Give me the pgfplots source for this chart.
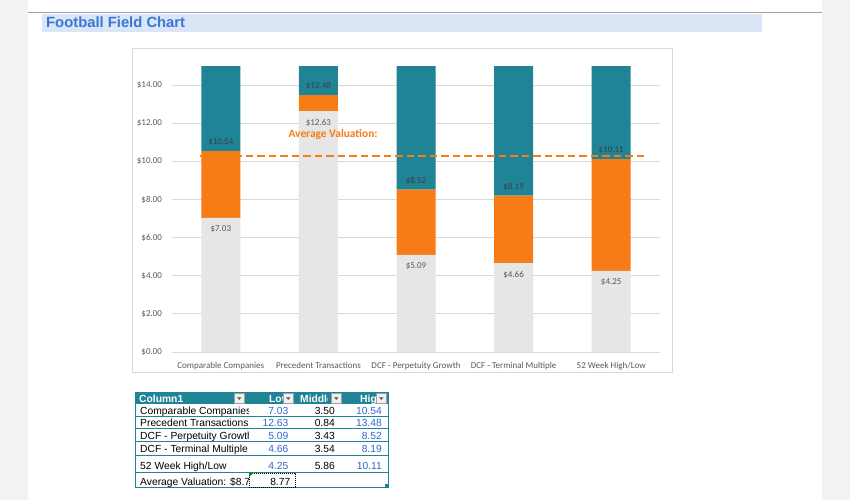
\documentclass[border=0pt]{standalone}
\usepackage{pgfplots}
\pgfplotsset{compat=1.18}
\usepackage{fontspec}
\setmainfont{Liberation Sans}
\newfontfamily\calibri{Carlito}
\definecolor{teal1}{RGB}{31,132,150}
\definecolor{orange1}{RGB}{245,124,22}
\definecolor{bargray}{RGB}{231,230,230}
\definecolor{gridgray}{RGB}{217,217,217}
\definecolor{labelgray}{RGB}{89,89,89}
\definecolor{darklabel}{RGB}{60,64,66}
\definecolor{titleblue}{RGB}{58,118,216}
\definecolor{band}{RGB}{218,229,245}
\definecolor{pagegray}{RGB}{242,242,242}
\definecolor{tblue}{RGB}{51,102,204}
\definecolor{btnfill}{RGB}{240,240,240}
\definecolor{btnborder}{RGB}{160,160,160}
\newcommand\cf{\calibri\fontsize{9bp}{10bp}\selectfont}
\newcommand\tf{\fontsize{10.3bp}{12bp}\selectfont}
\begin{document}
\begin{tikzpicture}
\begin{scope}[x=1bp,y=-1bp]
\useasboundingbox (0,0) rectangle (850,500);
\fill[pagegray] (0,0) rectangle (850,500);
\fill[white] (27.5,0) rectangle (822,500);
\draw[btnborder,line width=1bp] (28,13) -- (822,13);
\fill[band] (42,14) rectangle (762,32);
\node[anchor=base west,inner sep=0,text=titleblue,font=\bfseries\fontsize{14.8bp}{16bp}\selectfont] at (46,27.5) {Football Field Chart};
\draw[gridgray,line width=1bp] (132,49) rectangle (672,372);
\end{scope}

\begin{axis}[
  at={(172bp,-352bp)}, anchor=south west,
  scale only axis, width=488bp, height=286bp,
  ybar stacked, bar width=39bp,
  xmin=-0.5, xmax=4.5, ymin=0, ymax=15,
  xtick={0,1,2,3,4},
  xticklabels={Comparable Companies,Precedent Transactions,DCF - Perpetuity Growth,DCF - Terminal Multiple,52 Week High/Low},
  ytick={0,2,4,6,8,10,12,14},
  ymajorgrids, grid style={draw=gridgray,line width=1bp},
  axis line style={draw=none}, major tick style={draw=none},
  /pgf/number format/assume math mode=true,
  yticklabel={\$\pgfmathprintnumber[fixed,fixed zerofill,precision=2]{\tick}},
  ticklabel style={font=\cf, text=labelgray},
  yticklabel style={xshift=-6.5bp},
  xticklabel style={yshift=-7bp},
  clip=false,
]
\addplot[fill=bargray,draw=none] coordinates {(0,7.03) (1,12.63) (2,5.09) (3,4.66) (4,4.25)};
\addplot[fill=orange1,draw=none] coordinates {(0,3.50) (1,0.84) (2,3.43) (3,3.54) (4,5.86)};
\addplot[fill=teal1,draw=none] coordinates {(0,4.47) (1,1.53) (2,6.48) (3,6.80) (4,4.89)};
\end{axis}

\begin{axis}[
  at={(172bp,-352bp)}, anchor=south west,
  scale only axis, width=488bp, height=286bp,
  xmin=-0.5, xmax=4.5, ymin=0, ymax=15,
  hide axis, clip=false,
  /pgf/number format/assume math mode=true,
]
\addplot[draw=none, mark=none, point meta=y,
  nodes near coords={\$\pgfmathprintnumber[fixed,fixed zerofill,precision=2]{\pgfplotspointmeta}},
  nodes near coords align={anchor=base},
  every node near coord/.append style={font=\cf, text=darklabel, yshift=6.5bp, inner sep=0pt}]
  coordinates {(0,10.54) (1,13.48) (2,8.52) (3,8.19) (4,10.11)};
\addplot[draw=none, mark=none, point meta=y,
  nodes near coords={\$\pgfmathprintnumber[fixed,fixed zerofill,precision=2]{\pgfplotspointmeta}},
  nodes near coords align={anchor=base},
  every node near coord/.append style={font=\cf, text=labelgray, yshift=-14bp, inner sep=0pt}]
  coordinates {(0,7.03) (1,12.63) (2,5.09) (3,4.66) (4,4.25)};
\addplot[orange1, line width=2bp, dash pattern=on 7.5bp off 4bp] coordinates {(-0.214,10.28) (4.347,10.28)};
\node[text=orange1, font=\calibri\bfseries\fontsize{11.4bp}{13bp}\selectfont, inner sep=0pt] at (axis cs:1.15,11.43) {Average Valuation:};
\end{axis}

\begin{scope}[x=1bp,y=-1bp]
% table
\fill[teal1] (135,392) rectangle (388,404);
\foreach \yy in {416.5,428.5,441,455.5,472.5} {\draw[teal1,line width=0.8bp] (135,\yy) -- (388,\yy);}
\draw[teal1,line width=1bp] (135,392) rectangle (388,487);
% header text
\node[anchor=base west,inner sep=0,text=white,font=\tf\bfseries] at (139,402.5) {Column1};
\begin{scope}\clip (255,392) rectangle (283,404);
\node[anchor=base west,inner sep=0,text=white,font=\tf\bfseries] at (269,402.5) {Low};\end{scope}
\begin{scope}\clip (297,392) rectangle (327,404);
\node[anchor=base west,inner sep=0,text=white,font=\tf\bfseries] at (300,402.5) {Middle};\end{scope}
\begin{scope}\clip (343,392) rectangle (376,404);
\node[anchor=base west,inner sep=0,text=white,font=\tf\bfseries] at (360,402.5) {High};\end{scope}
% buttons
\foreach \xa in {234,283,331,376} {
  \fill[btnfill] (\xa,393) rectangle ({\xa+10.5},403);
  \draw[btnborder,line width=0.5bp] (\xa,393) rectangle ({\xa+10.5},403);
  \fill[black!70] ({\xa+3},397.3) -- ({\xa+7.5},397.3) -- ({\xa+5.25},399.8) -- cycle;
}
% first column
\begin{scope}\clip (135,404) rectangle (248.5,488);
\node[anchor=base west,inner sep=0,font=\tf] at (140,414.5) {Comparable Companies};
\node[anchor=base west,inner sep=0,font=\tf] at (140,426.5) {Precedent Transactions};
\node[anchor=base west,inner sep=0,font=\tf] at (140,439) {DCF - Perpetuity Growth};
\node[anchor=base west,inner sep=0,font=\tf] at (140,452) {DCF - Terminal Multiple};
\node[anchor=base west,inner sep=0,font=\tf] at (140,469.5) {52 Week High/Low};
\node[anchor=base west,inner sep=0,font=\tf] at (140,485) {Average Valuation: \$8.77};
\end{scope}
% numbers
\foreach \yy/\lo/\mi/\hi in {414.5/7.03/3.50/10.54, 426.5/12.63/0.84/13.48, 439/5.09/3.43/8.52, 452/4.66/3.54/8.19, 469.5/4.25/5.86/10.11} {
  \node[anchor=base east,inner sep=0,font=\tf,text=tblue] at (288.5,\yy) {\lo};
  \node[anchor=base east,inner sep=0,font=\tf] at (335,\yy) {\mi};
  \node[anchor=base east,inner sep=0,font=\tf,text=tblue] at (382,\yy) {\hi};
}
\node[anchor=base east,inner sep=0,font=\tf] at (290.5,485) {8.77};
\draw[black,line width=0.8bp,dash pattern=on 1bp off 1bp] (249,473) rectangle (295,487);
\fill[green!55!black] (249,472.5) -- (253.5,472.5) -- (249,477) -- cycle;
\fill[teal1] (385,484) rectangle (388,487);
\end{scope}
\end{tikzpicture}
\end{document}
